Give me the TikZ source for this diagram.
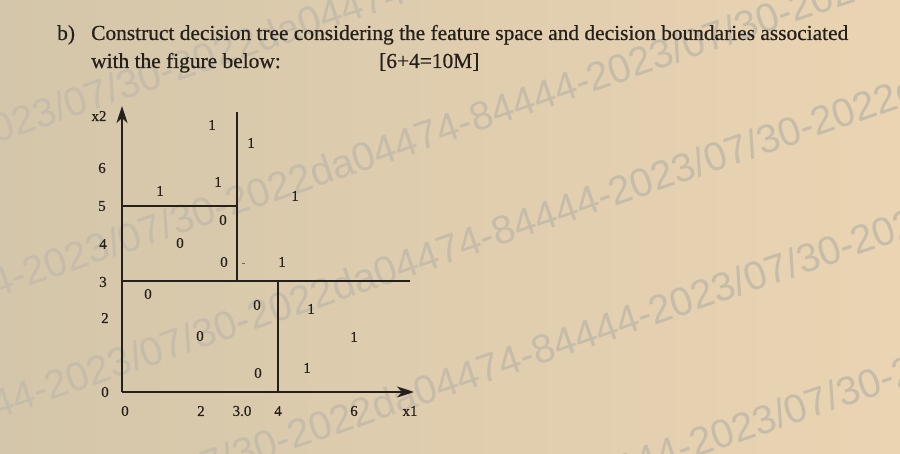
\documentclass[tikz,border=0pt]{standalone}
\usepackage{fontspec}
\setmainfont{Liberation Serif}[BoldFont={Liberation Serif},BoldFeatures={FakeBold=0.6}]
\newfontfamily\wmfont{Liberation Sans}
\usetikzlibrary{arrows.meta}
\definecolor{paperL}{RGB}{212,198,170}
\definecolor{paperR}{RGB}{234,212,178}
\definecolor{ink}{RGB}{36,32,28}
\definecolor{wm}{RGB}{198,188,170}
\begin{document}
\begin{tikzpicture}[x=1pt,y=-1pt,
  lbl/.style={font=\bfseries\fontsize{15}{15}\selectfont, text=ink, inner sep=0pt},
  ttl/.style={font=\bfseries\fontsize{21.4}{21.4}\selectfont, text=ink, inner sep=0pt, anchor=base west},
  wmtext/.style={font=\wmfont\fontsize{40}{40}\selectfont, text=wm, rotate=19, inner sep=0pt},
  axisline/.style={line width=2.4pt, draw=ink},
  bound/.style={line width=1.3pt, draw=ink}]
\path[use as bounding box, left color=paperL, right color=paperR] (0,0) rectangle (900,454);
% watermarks
\begin{scope}
\clip (0,0) rectangle (900,454);
\node[wmtext, anchor=base west] (wb1) at (-25,151) {2023/07/30-2022da04474-84444-2023/07/30-};
\node[wmtext, anchor=base east] (wb0) at (-25,151) {84444-};
\node[wmtext, anchor=base west] (wa1) at (231,217) {2022da04474-84444-2023/07/30-2022da};
\node[wmtext, anchor=base east] (wa0) at (231,217) {84444-2023/07/30-};
\node[wmtext, anchor=base west] (wc1) at (253,331) {2022da04474-84444-2023/07/30-2022da};
\node[wmtext, anchor=base east] (wc0) at (253,331) {84444-2023/07/30-};
\node[wmtext, anchor=base west] (wd1) at (293,450) {2022da04474-84444-2023/07/30-2022da};
\node[wmtext, anchor=base east] (wd0) at (293,450) {2023/07/30-};
\node[wmtext, anchor=base west] (wf1) at (695,458) {2023/07/30-2022};
\node[wmtext, anchor=base east] (wf0) at (695,458) {2022da04474-84444-};
\end{scope}
% title
\node[ttl] (tb) at (57,40) {b)};
\node[ttl] (t1) at (91,40) {Construct decision tree considering the feature space and decision boundaries associated};
\node[ttl] (t2) at (91,68) {with the figure below:};
\node[ttl] (t3) at (379,68) {[6+4=10M]};
% axes
\coordinate (O) at (122,392);
\coordinate (Ytop) at (122,106);
\coordinate (Xend) at (414,392);
\draw[axisline, -{Stealth[length=17pt,width=11pt,inset=5pt]}] (O) -- (Ytop);
\draw[axisline, -{Stealth[length=17pt,width=11pt,inset=5pt]}] (O) -- (Xend);
% boundaries
\coordinate (h5a) at (122,206); \coordinate (h5b) at (237,206);
\coordinate (v3t) at (237,112); \coordinate (v3b) at (237,281);
\coordinate (h3a) at (122,281); \coordinate (h3b) at (410,281);
\coordinate (v4t) at (278,281); \coordinate (v4b) at (278,392);
\draw[bound] (h5a) -- (h5b);
\draw[bound] (v3t) -- (v3b);
\draw[bound] (h3a) -- (h3b);
\draw[bound] (v4t) -- (v4b);
\coordinate (mk1) at (242,263); \coordinate (mk2) at (245,263);
\draw[line width=0.8pt, draw=ink!70] (mk1) -- (mk2);
% axis labels
\node[lbl] (x2) at (99,116) {x2};
\node[lbl] (y6) at (102,168) {6};
\node[lbl] (y5) at (102,206) {5};
\node[lbl] (y4) at (103,244) {4};
\node[lbl] (y3) at (103,282) {3};
\node[lbl] (y2) at (105,318) {2};
\node[lbl] (y0) at (105,392) {0};
\node[lbl] (xa0) at (125,411) {0};
\node[lbl] (xa2) at (201,411) {2};
\node[lbl] (xa3) at (242,411) {3.0};
\node[lbl] (xa4) at (278,411) {4};
\node[lbl] (xa6) at (354,411) {6};
\node[lbl] (x1) at (410,411) {x1};
% data labels
\node[lbl] (d1) at (212,125) {1};
\node[lbl] (d2) at (251,143) {1};
\node[lbl] (d3) at (160,191) {1};
\node[lbl] (d4) at (218,182) {1};
\node[lbl] (d5) at (295,196) {1};
\node[lbl] (d6) at (223,220) {0};
\node[lbl] (d7) at (180,243) {0};
\node[lbl] (d8) at (224,262) {0};
\node[lbl] (d9) at (282,262) {1};
\node[lbl] (d10) at (148,294) {0};
\node[lbl] (d11) at (257,305) {0};
\node[lbl] (d12) at (311,309) {1};
\node[lbl] (d13) at (200,336) {0};
\node[lbl] (d14) at (354,337) {1};
\node[lbl] (d15) at (258,373) {0};
\node[lbl] (d16) at (307,368) {1};
\end{tikzpicture}
\end{document}
